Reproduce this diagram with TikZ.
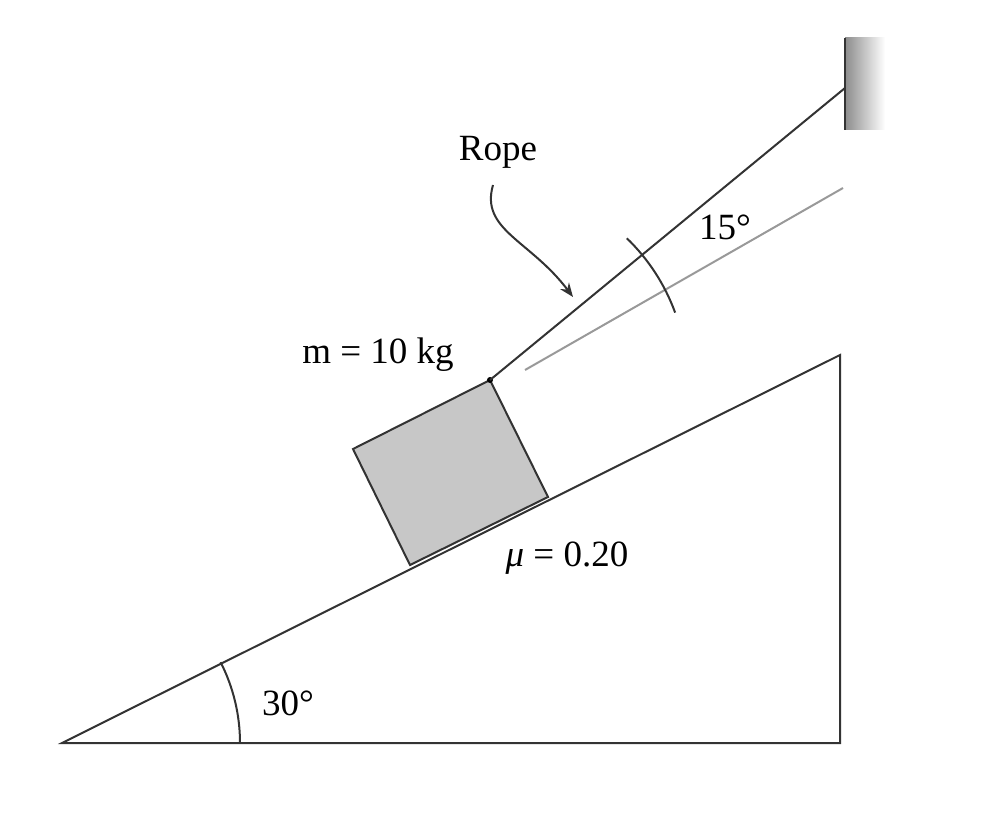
\documentclass[tikz,border=0pt]{standalone}
\usepackage{fontspec}
\setmainfont{Liberation Serif}
\usetikzlibrary{arrows.meta,calc}
\begin{document}
\begin{tikzpicture}[x=1pt,y=-1pt,
  line/.style={draw=black!80,line width=2pt},
  lbl/.style={font=\fontsize{37}{40}\selectfont,inner sep=0pt}]
\useasboundingbox (0,0) rectangle (984,818);
% wall
\shade[left color=black!45,right color=white] (845,38) rectangle (885,130);
\draw[line] (845,38) -- (845,130);
% incline
\coordinate (A) at (62,743);
\coordinate (B) at (840,743);
\coordinate (C) at (840,355);
\draw[line,line join=miter] (A) -- (B) -- (C) -- cycle;
% block
\coordinate (b1) at (410,565);
\coordinate (b2) at (548,497);
\coordinate (b3) at (490,380);
\coordinate (b4) at (353,449);
\draw[line,fill=black!22] (b1) -- (b2) -- (b3) -- (b4) -- cycle;
\fill (b3) circle (3pt);
% rope
\coordinate (R) at (845,88);
\draw[line] (b3) -- (R);
% reference line
\coordinate (g1) at (525,370);
\coordinate (g2) at (843,188);
\draw[black!40,line width=2pt] (g1) -- (g2);
% angle arcs
\draw[line] ($(b3)+(-46:197)$) arc[start angle=-46,end angle=-20,radius=197];
\draw[line] ($(A)+(-27:178)$) arc[start angle=-27,end angle=0,radius=178];
% labels
\node[lbl] (rope) at (498,152) {Rope};
\coordinate (rt) at (573,297);
\draw[line,-{Stealth[length=14pt,width=11pt]}] (493,185) .. controls (480,230) and (530,240) .. (rt);
\node[lbl] (a15) at (725,227) {15°};
\node[lbl] (m) at (378,355) {m = 10 kg};
\node[lbl] (mu) at (567,558) {\textit{μ} = 0.20};
\node[lbl] (a30) at (288,703) {30°};
\end{tikzpicture}
\end{document}
